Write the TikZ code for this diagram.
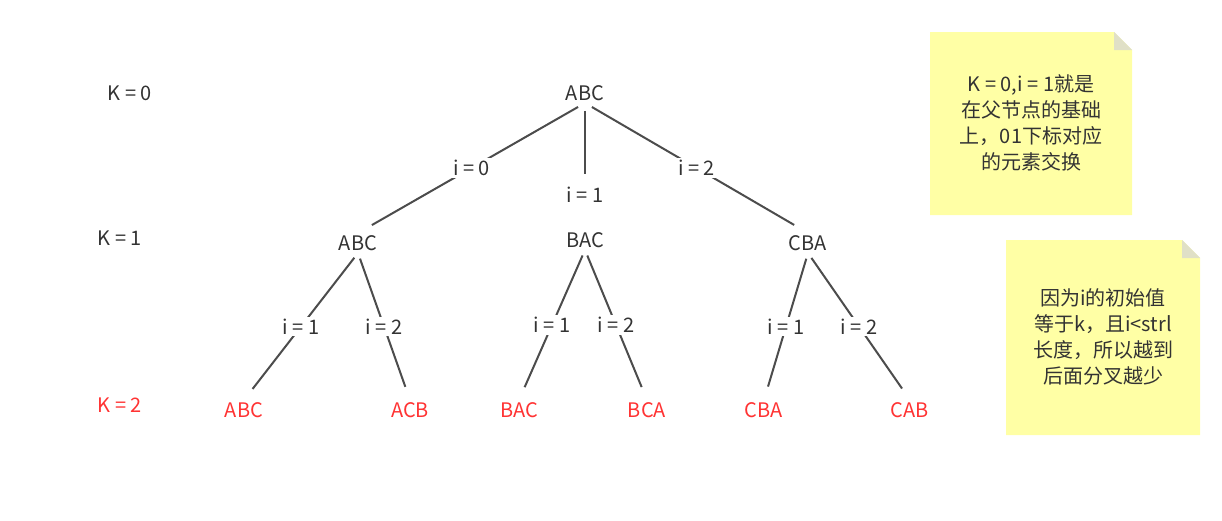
\documentclass[tikz,border=0pt]{standalone}
\usepackage{fontspec}
\setmainfont{Noto Sans CJK SC}
\usetikzlibrary{positioning}
\definecolor{notey}{HTML}{FFFFA5}
\definecolor{leafred}{HTML}{FF3333}
\tikzset{
    perm/.style={font=\fontsize{10}{12}\selectfont, text=black!80, inner sep=1pt},
    leaf/.style={perm, text=leafred},
    lvl/.style={perm},
    edge/.style={draw=black!70, line width=1pt},
    branch/.style={fill=white, font=\fontsize{10}{12}\selectfont, text=black!80, inner sep=1pt},
    note/.style={fill=notey, draw=none},
    notetext/.style={align=center, font=\fontsize{10}{13}\selectfont, text=black!80}
}
\begin{document}
\begin{tikzpicture}[x=0.5pt, y=-0.5pt]
    \useasboundingbox (0,0) rectangle (1222,520);
    % levels
    \node[lvl] (k0) at (130,93) {K = 0};
    \node[lvl] (k1) at (120,238) {K = 1};
    \node[leaf] (k2) at (120,405) {K = 2};
    % tree
    \node[perm] (root) at (585,93) {ABC};
    \node[perm] (a) at (358,243) {ABC};
    \node[perm] (b) at (585,240) {BAC};
    \node[perm] (c) at (808,243) {CBA};
    \foreach \n/\t/\x in {aa/ABC/244, ab/ACB/410, ba/BAC/519, bb/BCA/647, ca/CBA/764, cb/CAB/910} {
            \node[leaf] (\n) at (\x,410) {\t};
        }
    \draw[edge, shorten <=4pt, shorten >=8pt] (root.south) -- node[branch, pos=0.5] {i = 0} (a.north);
    \draw[edge, shorten <=4pt, shorten >=28pt] (root.south) -- node[branch, pos=0.72] {i = 1} (b.north);
    \draw[edge, shorten <=4pt, shorten >=8pt] (root.south) -- node[branch, pos=0.5] {i = 2} (c.north);
    \foreach \p/\l/\r in {a/aa/ab, b/ba/bb, c/ca/cb} {
            \draw[edge, shorten <=3pt, shorten >=7pt] (\p.south) -- node[branch] {i = 1} (\l.north);
            \draw[edge, shorten <=3pt, shorten >=7pt] (\p.south) -- node[branch] {i = 2} (\r.north);
        }
    % notes
    \fill[note] (930,32) -- (1114,32) -- (1132,50) -- (1132,215) -- (930,215) -- cycle;
    \fill[notey!70!black!40] (1114,32) -- (1114,50) -- (1132,50) -- cycle;
    \node[notetext] (n1) at (1031,123) {K = 0,i = 1就是\\在父节点的基础\\上，01下标对应\\的元素交换};
    \fill[note] (1006,240) -- (1182,240) -- (1200,258) -- (1200,435) -- (1006,435) -- cycle;
    \fill[notey!70!black!40] (1182,240) -- (1182,258) -- (1200,258) -- cycle;
    \node[notetext] (n2) at (1103,337) {因为i的初始值\\等于k，且i<strl\\长度，所以越到\\后面分叉越少};
\end{tikzpicture}
\end{document}
